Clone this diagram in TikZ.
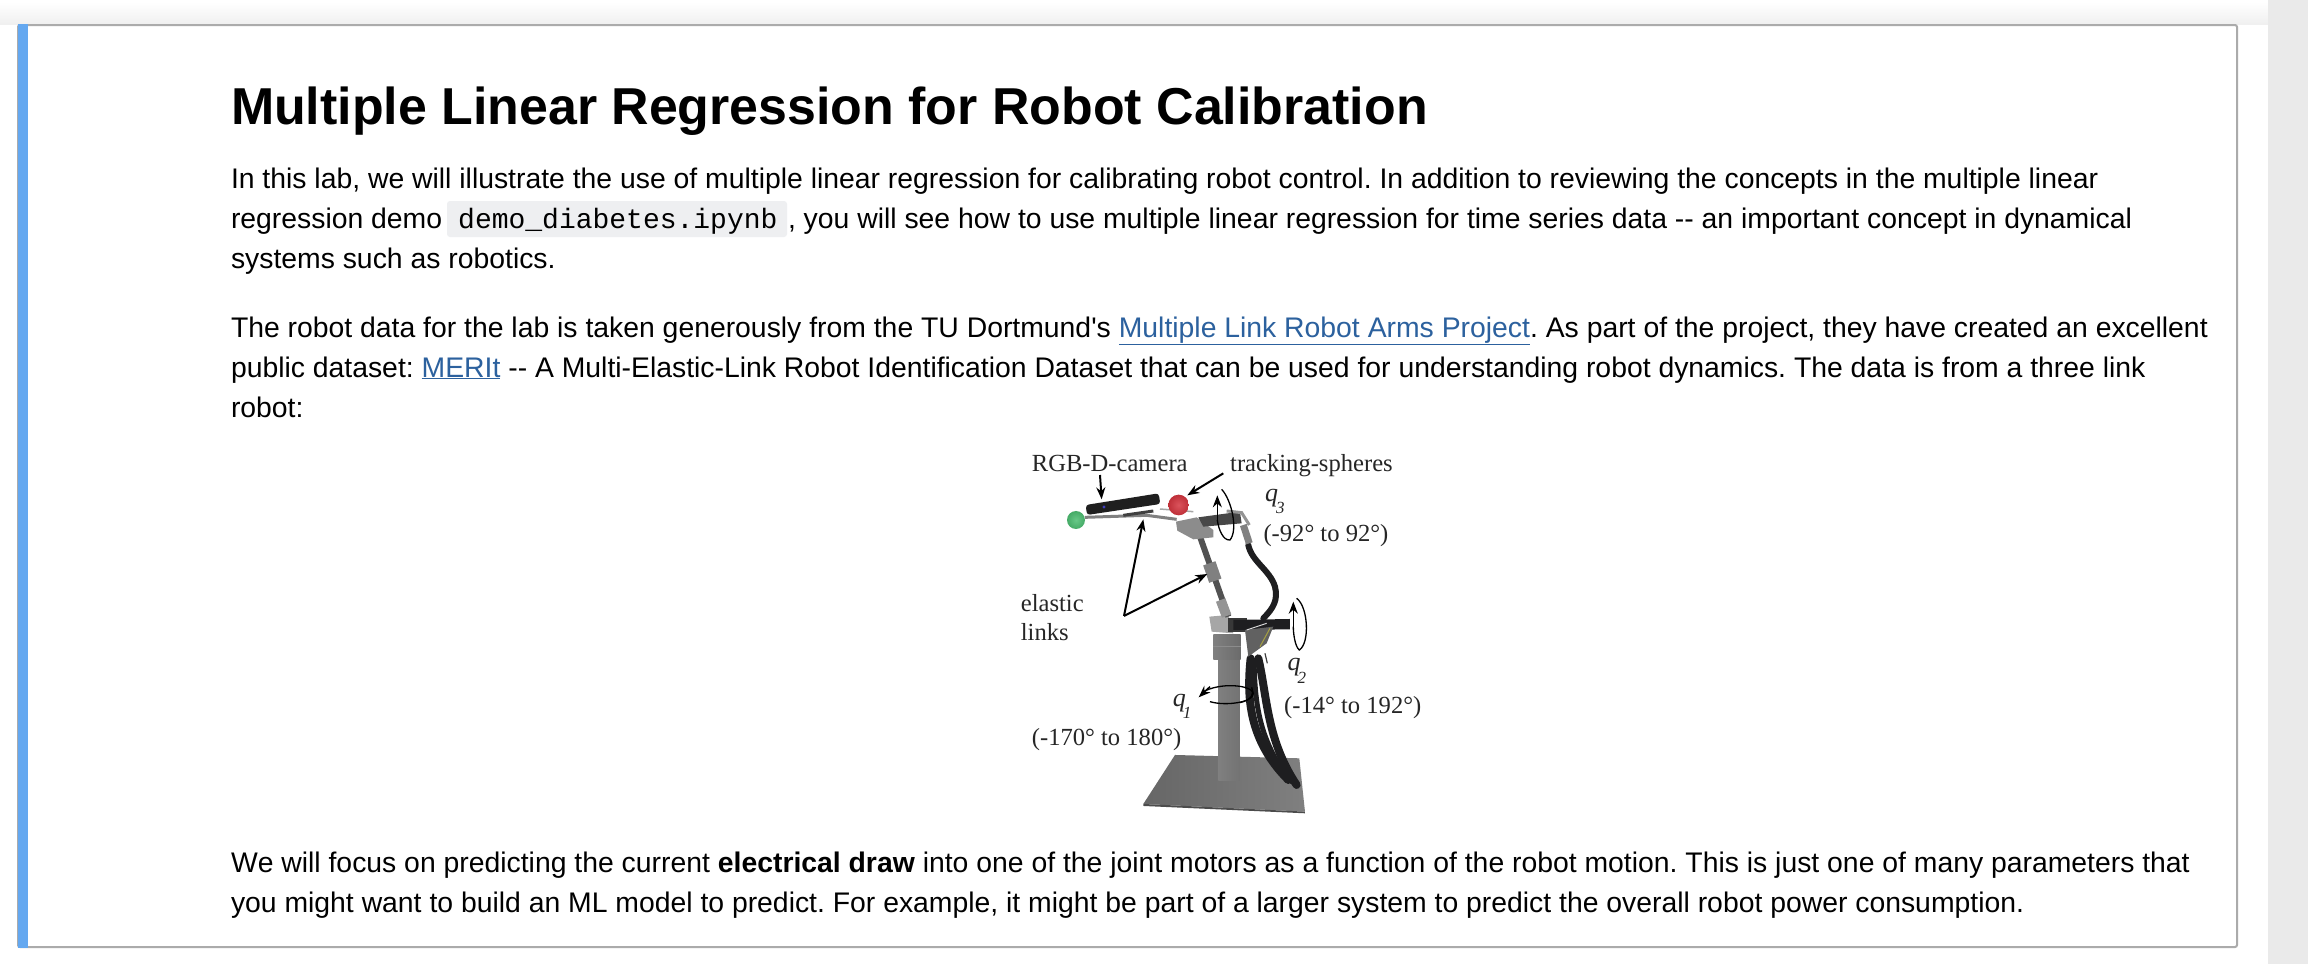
\documentclass[tikz,border=0pt]{standalone}
\usepackage{fontspec}
\newfontfamily\bodyfont[Kerning=Off]{Liberation Sans}
\newfontfamily\robotfont{Liberation Serif}
\newfontfamily\codefont{Liberation Mono}
\definecolor{barblue}{HTML}{64A8F0}
\definecolor{cardline}{HTML}{ABABAB}
\definecolor{codebg}{HTML}{EEEFF1}
\definecolor{linkblue}{HTML}{2C619E}
\definecolor{scrollgray}{HTML}{EAEAEA}
\definecolor{cablek}{HTML}{1E1E20}
\definecolor{ballred}{HTML}{D4353F}
\definecolor{ballgreen}{HTML}{4DBE72}
\newcommand{\lnk}[1]{\textcolor{linkblue}{\underline{#1}}}
\tikzset{
  bodytext/.style={anchor=base west,inner sep=0pt,outer sep=0pt,font=\fontsize{28.35}{40}\selectfont\bodyfont\frenchspacing},
  titletext/.style={anchor=base west,inner sep=0pt,outer sep=0pt,font=\fontsize{51.9}{60}\selectfont\bodyfont\bfseries},
  codetext/.style={anchor=base west,inner sep=0pt,font=\fontsize{28}{40}\selectfont\codefont},
  robotlabel/.style={anchor=base west,inner sep=0pt,text=black!85,font=\fontsize{24.6}{28}\selectfont\robotfont},
  robotq/.style={anchor=base west,inner sep=0pt,text=black!85,font=\fontsize{26}{28}\selectfont\robotfont\itshape},
  robotsub/.style={anchor=base west,inner sep=0pt,text=black!85,font=\fontsize{17}{20}\selectfont\robotfont\itshape},
  callout/.style={draw=black,line width=2pt,-{Stealth[length=12pt,width=9pt]}},
  spin/.style={draw=black,line width=1.3pt},
  cable/.style={draw=cablek,line width=5pt,line cap=round},
}
\usetikzlibrary{arrows.meta}
\begin{document}
\begin{tikzpicture}[x=1pt,y=-1pt]
\useasboundingbox (0,0) rectangle (2308,964);
\fill[white] (0,0) rectangle (2308,964);
% page furniture
\shade[top color=white,bottom color=black!6] (0,2) rectangle (2268,24);
\fill[scrollgray] (2268,0) rectangle (2308,964);
\draw[cardline,line width=2pt,fill=white,rounded corners=2pt] (18,25) rectangle (2237,947);
\fill[barblue] (18,24) rectangle (28,948);
% text
\node[titletext] (title) at (231,124) {Multiple Linear Regression for Robot Calibration};
\node[bodytext] (p1a) at (231,188) {In this lab, we will illustrate the use of multiple linear regression for calibrating robot control. In addition to reviewing the concepts in the multiple linear};
\node[bodytext] (p1b) at (231,228) {regression demo};
\fill[codebg,rounded corners=3pt] (447,201) rectangle (787,237);
\node[codetext] (code) at (458,228) {demo\_diabetes.ipynb};
\node[bodytext] (p1c) at (788,228) {, you will see how to use multiple linear regression for time series data -- an important concept in dynamical};
\node[bodytext] (p1d) at (231,268) {systems such as robotics.};
\node[bodytext] (p2a) at (231,337) {The robot data for the lab is taken generously from the TU Dortmund's \lnk{Multiple Link Robot Arms Project}. As part of the project, they have created an excellent};
\node[bodytext] (p2b) at (231,377) {public dataset: \lnk{MERIt} -- A Multi-Elastic-Link Robot Identification Dataset that can be used for understanding robot dynamics. The data is from a three link};
\node[bodytext] (p2c) at (231,417) {robot:};
\node[bodytext] (p3a) at (231,872) {We will focus on predicting the current \textbf{electrical draw} into one of the joint motors as a function of the robot motion. This is just one of many parameters that};
\node[bodytext] (p3b) at (231,912) {you might want to build an ML model to predict. For example, it might be part of a larger system to predict the overall robot power consumption.};
% robot photograph, drawn in 3x zoom coordinates
\begin{scope}[shift={(980,430)},x=0.3333pt,y=-0.3333pt]
  % base plate
  \shade[left color=black!60,right color=black!50] (585,975) -- (958,985) -- (975,1145) -- (490,1122) -- cycle;
  \fill[black!70] (490,1122) -- (975,1145) -- (975,1150) -- (490,1128) -- cycle;
  % pole
  \shade[left color=black!50,middle color=black!15,right color=black!55] (715,690) rectangle (780,1052);
  \shade[left color=black!50,middle color=black!15,right color=black!58] (700,615) rectangle (782,690);
  \draw[black!45,line width=1.5pt] (700,650) -- (782,650);
  % cables to base
  \draw[cable,line width=8pt] (812,685) .. controls (800,800) and (805,930) .. (925,1050);
  \draw[cable,line width=8pt] (835,685) .. controls (862,800) and (860,930) .. (950,1065);
  \draw[cable,line width=5pt] (822,690) .. controls (825,800) and (830,930) .. (935,1055);
  \draw[black!75,line width=1.2pt] (855,670) -- (862,700);
  % base joint
  \fill[black!35] (688,560) -- (745,555) -- (760,610) -- (695,605) -- cycle;
  \fill[black!78] (745,565) -- (800,565) -- (800,605) -- (745,605) -- cycle;
  \fill[cablek] (760,570) -- (930,567) -- (930,598) -- (760,600) -- cycle;
  \fill[black!62] (795,600) -- (880,590) -- (860,640) -- (805,680) -- cycle;
  \draw[black!15,line width=1pt] (800,600) -- (860,580);
  \draw[yellow!60!black,line width=1pt] (840,650) -- (870,595);
  % lower link
  \draw[black!68,line width=6pt] (660,320) -- (745,560);
  \draw[black!50,line width=13pt] (688,400) -- (706,452);
  \draw[black!42,line width=10pt] (722,510) -- (740,558);
  % cable to wrist
  \draw[cable,line width=6pt] (805,345) .. controls (815,395) and (870,420) .. (885,470) .. controls (895,510) and (880,535) .. (850,565);
  \draw[black!50,line width=7pt] (790,285) -- (808,340);
  % wrist joint
  \fill[black!45] (588,275) -- (650,262) -- (700,300) -- (700,322) -- (640,328) -- (592,302) -- cycle;
  \fill[black!72] (655,262) -- (780,245) -- (785,280) -- (670,290) -- cycle;
  \draw[black!42,line width=3pt] (740,243) -- (785,248) -- (808,285);
  % upper link
  \draw[black!50,line width=3pt] (315,262) -- (500,256) -- (590,268);
  \draw[black!75,line width=3pt] (430,256) -- (520,243);
  \draw[black!35,line width=1.5pt] (540,237) -- (640,245);
  % camera
  \fill[black!88,rounded corners=3pt] (317,225) -- (536,190) -- (541,222) -- (321,255) -- cycle;
  \fill[blue!50!gray] (372,231) circle[radius=5];
  % tracking spheres
  \shade[inner color=ballgreen!85!white,outer color=ballgreen!90!black] (288,270) circle[radius=27];
  \shade[inner color=ballred!85!white,outer color=ballred!90!black] (596,225) circle[radius=31];
  % rotation marks
  \draw[spin] (725,178) .. controls (755,210) and (775,300) .. (750,330) .. controls (730,332) and (716,300) .. (712,270);
  \draw[callout,line width=1.5pt] (712,275) -- (712,196);
  \draw[spin] (950,505) .. controls (985,530) and (990,640) .. (958,660) .. controls (945,650) and (940,610) .. (940,590);
  \draw[callout,line width=1.5pt] (940,595) -- (940,515);
  \draw[spin] (690,815) .. controls (740,830) and (825,815) .. (820,790) .. controls (815,765) and (720,755) .. (665,788);
  \draw[spin] (815,772) .. controls (825,790) and (815,810) .. (780,818);
  \coordinate (q1from) at (690,770);
  \coordinate (q1to) at (656,802);
  \draw[callout,line width=1.5pt] (q1from) -- (q1to);
  % callouts
  \node[robotlabel] (cam) at (155,125) {RGB-D-camera};
  \node[robotlabel] (track) at (750,125) {tracking-spheres};
  \coordinate (camfrom) at (360,135);
  \coordinate (camto) at (365,208);
  \coordinate (trackfrom) at (730,130);
  \coordinate (trackto) at (622,196);
  \coordinate (elastic apex) at (432,558);
  \coordinate (upper link) at (490,268);
  \coordinate (lower link) at (682,432);
  \draw[callout] (camfrom) -- (camto);
  \draw[callout] (trackfrom) -- (trackto);
  \draw[callout] (elastic apex) -- (upper link);
  \draw[callout] (elastic apex) -- (lower link);
  \node[robotlabel] (el) at (122,545) {elastic};
  \node[robotlabel] (li) at (122,632) {links};
  \node[robotq] (q3) at (855,215) {q};
  \node[robotsub] (s3) at (888,252) {3};
  \node[robotlabel] (r3) at (850,335) {(-92° to 92°)};
  \node[robotq] (q2) at (922,722) {q};
  \node[robotsub] (s2) at (952,762) {2};
  \node[robotlabel] (r2) at (912,850) {(-14° to 192°)};
  \node[robotq] (q1) at (578,830) {q};
  \node[robotsub] (s1) at (608,866) {1};
  \node[robotlabel] (r1) at (155,948) {(-170° to 180°)};
\end{scope}
\end{tikzpicture}
\end{document}
